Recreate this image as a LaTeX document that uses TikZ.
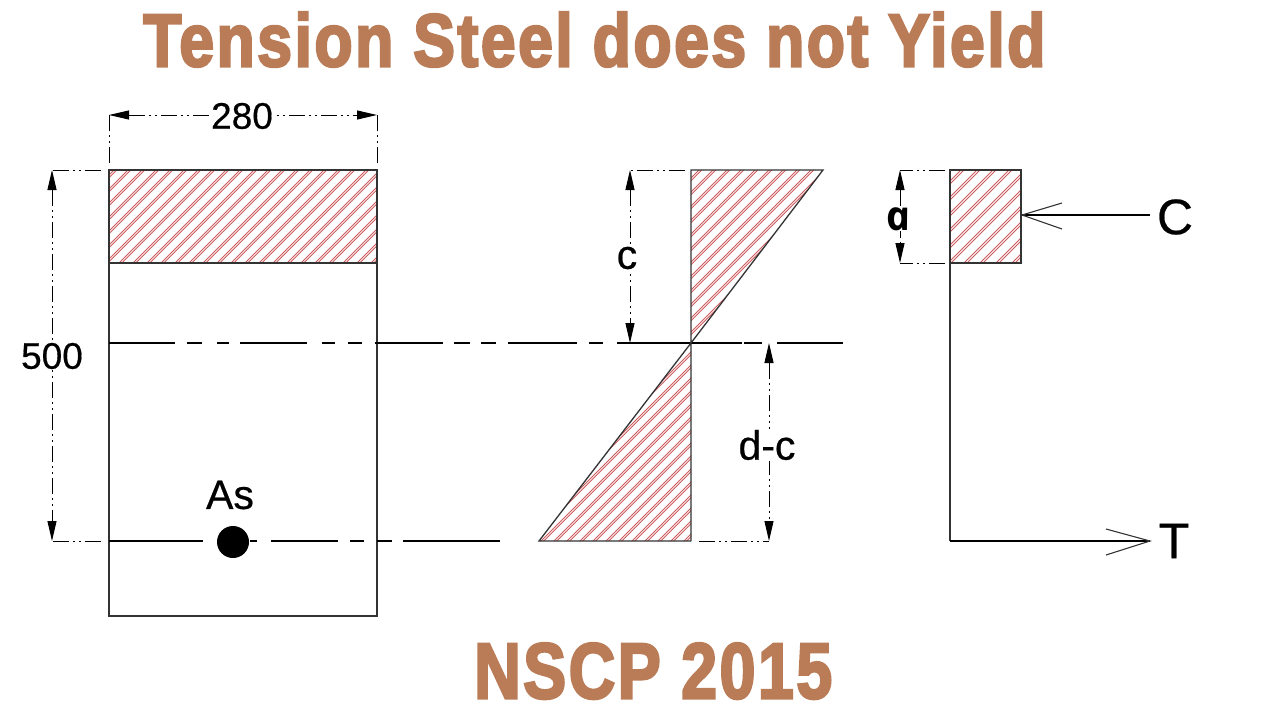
\documentclass[tikz,border=0pt]{standalone}
\usepackage{fontspec}
\usepackage{graphicx}
\usetikzlibrary{arrows.meta}
\setmainfont{Liberation Sans}
\newfontfamily\labfont[FakeBold=0.5]{Liberation Sans}
\newfontfamily\ttlfont[FakeBold=3.5,LetterSpace=4]{Liberation Sans Bold}
\newfontfamily\afont[FakeSlant=-0.2]{Open Sans Bold Italic}
\definecolor{ttl}{HTML}{BA7B57}
\definecolor{hatchred}{HTML}{CF5A5E}
\definecolor{edge}{HTML}{333333}
\tikzset{
  outline/.style={draw=edge,line width=1.3pt},
  hatchline/.style={draw=hatchred,line width=0.85pt},
  ext/.style={draw=black,line width=1pt,dash pattern=on 16pt off 4pt on 2pt off 4pt on 2pt off 4pt},
  dim/.style={ext,{Triangle[length=20pt,width=9pt]}-{Triangle[length=20pt,width=9pt]}},
  axis/.style={draw=black,line width=1.2pt},
  lab/.style={font=\labfont\fontsize{37}{37}\selectfont,inner sep=1pt,fill=white,text=black},
  biglab/.style={font=\labfont\fontsize{50}{50}\selectfont,inner sep=1pt,text=black},
  midlab/.style={lab,font=\labfont\fontsize{41}{41}\selectfont},
  force/.style={draw=black,line width=1.2pt},
  headline/.style={draw=edge,line width=1.1pt},
  ttltext/.style={text=ttl,inner sep=0pt,anchor=north west}
}
\begin{document}
\begin{tikzpicture}[x=1pt,y=-1pt]
\useasboundingbox (0,0) rectangle (1280,720);
\fill[white] (0,0) rectangle (1280,720);
% titles
\node[ttltext] (title) at (143,12) {\resizebox{902pt}{54pt}{\ttlfont Tension Steel does not Yield}};
\node[ttltext] (sub) at (474,643) {\resizebox{358pt}{55pt}{\ttlfont NSCP 2015}};
% named points
\coordinate (btl) at (109,170); \coordinate (btr) at (377,170);
\coordinate (bbl) at (109,616); \coordinate (bbr) at (377,616);
\coordinate (hbl) at (109,263); \coordinate (hbr) at (377,263);
\coordinate (naL) at (109,343); \coordinate (naR) at (843,343);
\coordinate (stL) at (109,541); \coordinate (stR) at (500,541);
\coordinate (s0) at (691,343); \coordinate (s1) at (691,170); \coordinate (s2) at (823,170);
\coordinate (s3) at (691,541); \coordinate (s4) at (539,541);
\coordinate (ctl) at (950,170); \coordinate (ctr) at (1021,170);
\coordinate (cbl) at (950,263); \coordinate (cbr) at (1021,263);
\coordinate (tc) at (950,541); \coordinate (ttip) at (1150,541);
\coordinate (ct1) at (1106,529); \coordinate (ct2) at (1106,555);
\coordinate (ctip) at (1022,215); \coordinate (cend) at (1150,215);
\coordinate (cc1) at (1062,203); \coordinate (cc2) at (1062,229);
% hatching: lines x+y=k
\begin{scope}
  \clip (btl) rectangle (hbr);
  \foreach \k in {270,284,...,650}{
    \draw[hatchline] (\k-700,700) -- (\k,0);
    \draw[hatchline] (\k+2.8-700,700) -- (\k+2.8,0);
  }
\end{scope}
\begin{scope}
  \clip (s0) -- (s1) -- (s2) -- cycle;
  \foreach \k in {855,869,...,1040}{
    \draw[hatchline] (\k-700,700) -- (\k,0);
    \draw[hatchline] (\k+2.8-700,700) -- (\k+2.8,0);
  }
\end{scope}
\begin{scope}
  \clip (s0) -- (s3) -- (s4) -- cycle;
  \foreach \k in {1030,1043,...,1240}{
    \draw[hatchline] (\k-700,700) -- (\k,0);
    \draw[hatchline] (\k+2.8-700,700) -- (\k+2.8,0);
  }
\end{scope}
\begin{scope}
  \clip (ctl) rectangle (cbr);
  \foreach \k in {1115,1131,...,1290}{
    \draw[hatchline] (\k-700,700) -- (\k,0);
    \draw[hatchline] (\k+3-700,700) -- (\k+3,0);
  }
\end{scope}
% beam
\draw[outline] (btl) rectangle (bbr);
\draw[outline] (hbl) -- (hbr);
% axis lines
\draw[axis,dash pattern=on 66pt off 12pt on 15pt off 15pt on 12pt off 11pt on 67pt off 15pt on 13pt off 13pt on 14pt off 13pt on 68pt off 11pt on 16pt off 11pt on 15pt off 12pt on 69pt off 12pt on 14pt off 14pt on 125pt off 2pt on 18pt off 15pt on 66pt off 100pt] (naL) -- (naR);
\draw[axis,dash pattern=on 94pt off 47pt on 7pt off 14pt on 67pt off 12pt on 14pt off 13pt on 15pt off 11pt on 97pt off 100pt] (stL) -- (stR);
\node[circle,fill=black,inner sep=0pt,minimum size=32pt] (bar) at (233,542) {};
% stress diagram
\draw[outline] (s3) -- (s1) -- (s2) -- (s0) -- (s4) -- (s3);
% force diagram
\draw[outline] (cbl) -- (ctl) -- (ctr) -- (cbr) -- cycle;
\draw[outline] (cbl) -- (tc);
\draw[force] (tc) -- (ttip);
\draw[headline] (ct1) -- (ttip) -- (ct2);
\draw[force] (cend) -- (ctip);
\draw[headline] (cc1) -- (ctip) -- (cc2);
% dimension extensions
\coordinate (e1) at (109,115); \coordinate (e1b) at (109,163);
\coordinate (e2) at (377,115); \coordinate (e2b) at (377,163);
\coordinate (e3) at (52,170); \coordinate (e3b) at (101,170);
\coordinate (e4) at (52,541); \coordinate (e4b) at (101,541);
\coordinate (e5) at (630,170); \coordinate (e5b) at (685,170);
\coordinate (e6) at (630,343);
\coordinate (e7) at (769,343);
\coordinate (e8) at (769,541); \coordinate (e8b) at (699,541);
\coordinate (e9) at (900,170); \coordinate (e9b) at (945,170);
\coordinate (e10) at (900,263); \coordinate (e10b) at (945,263);
\draw[ext] (e1b) -- (e1);
\draw[ext] (e2b) -- (e2);
\draw[ext] (e3b) -- (e3);
\draw[ext] (e4b) -- (e4);
\draw[ext] (e5b) -- (e5);
\draw[ext] (e8b) -- (e8);
\draw[ext] (e9b) -- (e9);
\draw[ext] (e10b) -- (e10);
\draw[dim] (e1) -- (e2);
\draw[dim] (e3) -- (e4);
\draw[dim] (e5) -- (e6);
\draw[dim] (e7) -- (e8);
\draw[dim] (e9) -- (e10);
% labels
\node[lab] (l280) at (242,116) {280};
\node[lab] (l500) at (52,356) {500};
\node[midlab] (lAs) at (230,495) {As};
\node[midlab] (lc) at (627,258) {c};
\node[midlab] (ldc) at (767,445) {d-c};
\node[lab,inner sep=0pt,font=\fontsize{41}{41}\selectfont] (la) at (901,219) {\afont a};
\node[biglab] (lC) at (1175,217) {C};
\node[biglab] (lT) at (1174,541) {T};
\end{tikzpicture}
\end{document}
